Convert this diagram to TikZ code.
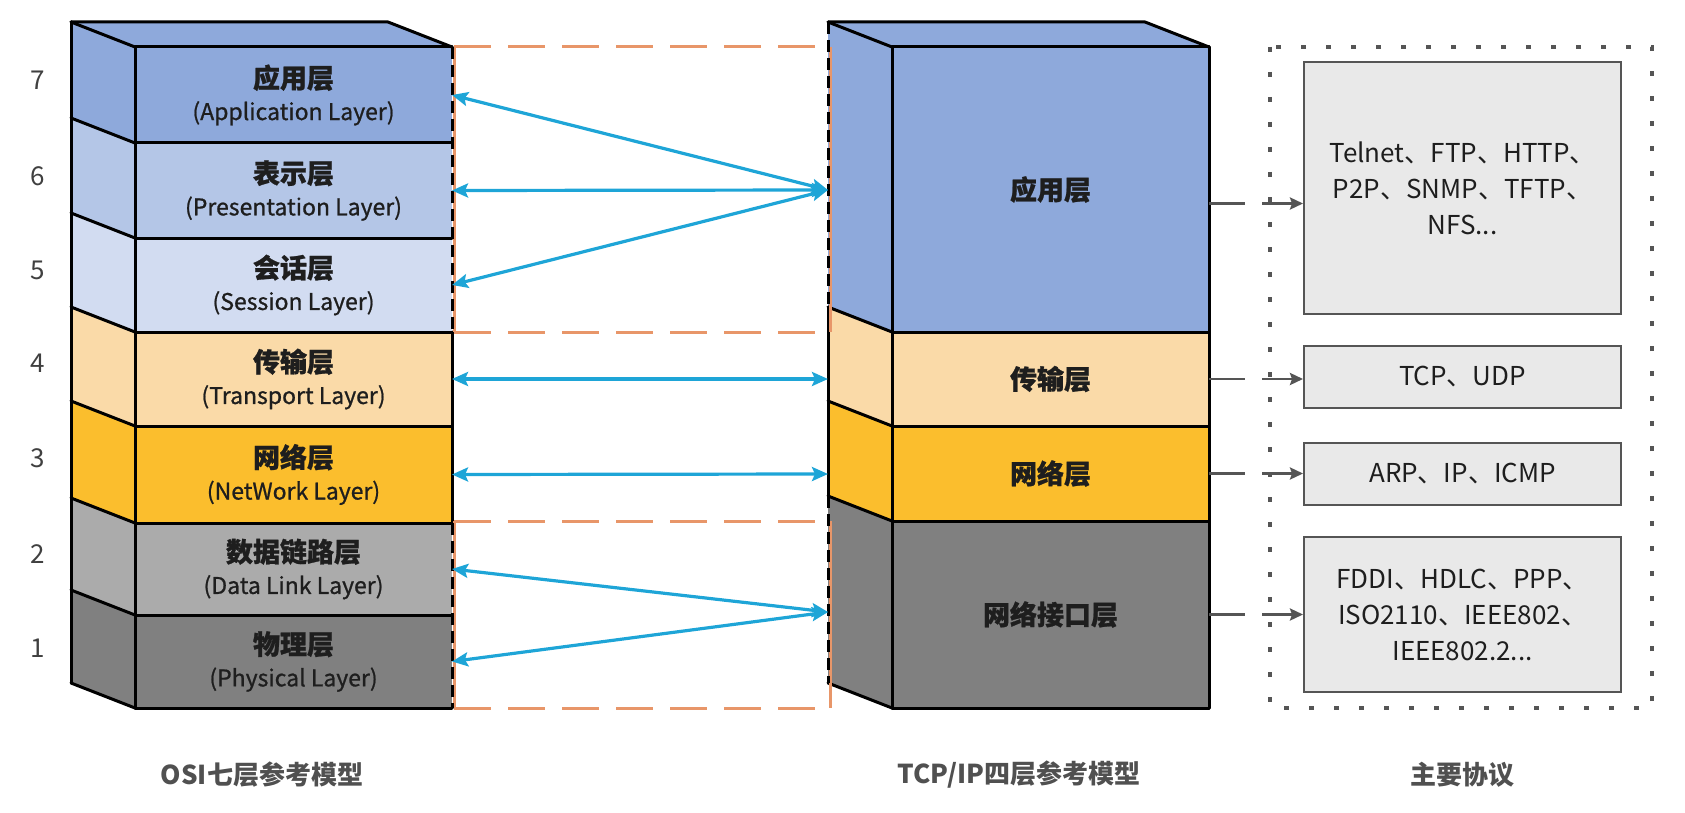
\documentclass[tikz,border=0pt]{standalone}
\usepackage{fontspec}
\setmainfont{Noto Sans CJK SC}
\newfontfamily\medfont{Noto Sans CJK SC}[FakeBold=0.9]
\usetikzlibrary{arrows.meta}
\definecolor{cApp}{RGB}{142,169,219}
\definecolor{cPre}{RGB}{180,198,231}
\definecolor{cSes}{RGB}{210,220,241}
\definecolor{cTra}{RGB}{250,218,168}
\definecolor{cNet}{RGB}{251,190,45}
\definecolor{cDat}{RGB}{171,171,171}
\definecolor{cPhy}{RGB}{128,128,128}
\definecolor{cBlue}{RGB}{30,165,215}
\definecolor{cOrange}{RGB}{232,150,105}
\definecolor{cProt}{RGB}{233,233,233}
\definecolor{cGrayLine}{RGB}{85,85,85}
\definecolor{cText}{RGB}{30,30,30}
\definecolor{cLabel}{RGB}{80,80,80}
\begin{document}
\begin{tikzpicture}[x=1pt,y=-1pt,
  face/.style={draw=none, inner sep=0pt, outer sep=0pt, minimum width=317pt,
    anchor=north west, align=center, text=cText, font=\medfont\fontsize{23}{32}\selectfont},
  edge/.style={line width=3pt, draw=black, line cap=round, line join=round},
  dashedge/.style={line width=3pt, draw=black, line cap=butt, dash pattern=on 12pt off 6pt},
  orangedash/.style={line width=3pt, draw=cOrange, dash pattern=on 37pt off 17pt},
  orangeside/.style={line width=2.2pt, draw=cOrange},
  bluearr/.style={draw=cBlue, line width=3.2pt,
    arrows={Stealth[length=16pt,width=14pt,inset=3pt]-Stealth[length=16pt,width=14pt,inset=3pt]}},
  grayarr/.style={draw=cGrayLine, line width=2.8pt, dash pattern=on 36pt off 17pt on 200pt off 10pt,
    -{Stealth[length=13pt,width=12pt,inset=2pt]}},
  prot/.style={draw=cGrayLine, line width=2pt, fill=cProt, inner sep=0pt, minimum width=317pt,
    align=center, text=cText, font=\fontsize{26}{36}\selectfont},
  num/.style={text=cLabel!80!black, font=\fontsize{26}{30}\selectfont},
  caption/.style={text=cLabel, font=\bfseries\fontsize{26}{30}\selectfont}
]
\useasboundingbox (0,0) rectangle (1685,813);

% ---------------- OSI cube ----------------
\foreach \ya/\yb/\c in {47/143/cApp,143/238/cPre,238/332/cSes,332/426/cTra,426/523/cNet,523/615/cDat,615/708/cPhy}{
  \fill[\c] (135,\ya) -- ++(-64,-25) -- (71,{\yb-25}) -- (135,\yb) -- cycle;
}
\fill[cApp] (71,22) -- (388,22) -- (452,47) -- (135,47) -- cycle;

\node[face, fill=cApp, minimum height=96pt] (o7) at (135,47) {{\bfseries\fontsize{27}{32}\selectfont 应用层}\\(Application Layer)};
\node[face, fill=cPre, minimum height=95pt] (o6) at (135,143) {{\bfseries\fontsize{27}{32}\selectfont 表示层}\\(Presentation Layer)};
\node[face, fill=cSes, minimum height=94pt] (o5) at (135,238) {{\bfseries\fontsize{27}{32}\selectfont 会话层}\\(Session Layer)};
\node[face, fill=cTra, minimum height=94pt] (o4) at (135,332) {{\bfseries\fontsize{27}{32}\selectfont 传输层}\\(Transport Layer)};
\node[face, fill=cNet, minimum height=97pt] (o3) at (135,426) {{\bfseries\fontsize{27}{32}\selectfont 网络层}\\(NetWork Layer)};
\node[face, fill=cDat, minimum height=92pt] (o2) at (135,523) {{\bfseries\fontsize{27}{32}\selectfont 数据链路层}\\(Data Link Layer)};
\node[face, fill=cPhy, minimum height=93pt] (o1) at (135,615) {{\bfseries\fontsize{27}{32}\selectfont 物理层}\\(Physical Layer)};

\foreach \y in {47,143,238,332,426,523,615,708}{
  \draw[edge] (135,\y) -- ++(-64,-25);
  \draw[edge] (135,\y) -- (452,\y);
}
\draw[edge] (71,22) -- (388,22) -- (452,47);
\draw[edge] (71,22) -- (71,683);
\draw[edge] (135,47) -- (135,708);
\draw[edge] (452,332) -- (452,523);

% ---------------- TCP/IP cube ----------------
\foreach \ya/\yb/\c in {47/332/cApp,332/426/cTra,426/521/cNet,521/708/cPhy}{
  \fill[\c] (892,\ya) -- ++(-64,-25) -- (828,{\yb-25}) -- (892,\yb) -- cycle;
}
\fill[cApp] (828,22) -- (1145,22) -- (1209,47) -- (892,47) -- cycle;

\node[face, fill=cApp, minimum height=285pt] (tapp) at (892,47) {{\bfseries\fontsize{27}{32}\selectfont 应用层}};
\node[face, fill=cTra, minimum height=94pt] (ttra) at (892,332) {{\bfseries\fontsize{27}{32}\selectfont 传输层}};
\node[face, fill=cNet, minimum height=95pt] (tnet) at (892,426) {{\bfseries\fontsize{27}{32}\selectfont 网络层}};
\node[face, fill=cPhy, minimum height=187pt] (tint) at (892,521) {{\bfseries\fontsize{27}{32}\selectfont 网络接口层}};

\foreach \y in {47,332,426,521,708}{
  \draw[edge] (892,\y) -- ++(-64,-25);
  \draw[edge] (892,\y) -- (1209,\y);
}
\draw[edge] (828,22) -- (1145,22) -- (1209,47);
\draw[edge] (892,47) -- (892,708);
\draw[edge] (1209,47) -- (1209,708);
\draw[edge] (828,307) -- (828,496);

% ---------------- orange dashed frames ----------------
\draw[orangeside] (454.5,47) -- (454.5,332);
\draw[orangeside] (454.5,521) -- (454.5,708);
\draw[orangeside] (830.5,47) -- (830.5,332);
\draw[orangeside] (830.5,521) -- (830.5,708);
\draw[orangedash] (454,47) -- (831,47);
\draw[orangedash] (454,332) -- (831,332);
\draw[orangedash] (454,521) -- (831,521);
\draw[orangedash] (454,708) -- (831,708);
\draw[dashedge] (452,47) -- (452,332);
\draw[dashedge] (452,523) -- (452,708);
\draw[dashedge] (828,22) -- (828,307);
\draw[dashedge] (828,496) -- (828,683);

% ---------------- layer numbers ----------------
\node[num] (n7) at (38,80) {7};
\node[num] (n6) at (38,176) {6};
\node[num] (n5) at (38,270) {5};
\node[num] (n4) at (38,363) {4};
\node[num] (n3) at (38,458) {3};
\node[num] (n2) at (38,554) {2};
\node[num] (n1) at (38,648) {1};

% ---------------- blue arrows ----------------
\coordinate (tA) at (828,190);
\coordinate (tT) at (828,379);
\coordinate (tN) at (828,474);
\coordinate (tI) at (828,612);
\draw[bluearr] (o7.east) -- (tA);
\draw[bluearr] (o6.east) -- (tA);
\draw[bluearr] (o5.east) -- (tA);
\draw[bluearr] (o4.east) -- (tT);
\draw[bluearr] (o3.east) -- (tN);
\draw[bluearr] (o2.east) -- (tI);
\draw[bluearr] (o1.east) -- (tI);

% ---------------- protocols ----------------
\draw[cGrayLine, line width=4pt, dash pattern=on 5pt off 20pt] (1270,47) rectangle (1652,708);
\node[prot, minimum height=252pt] (p1) at (1462.5,188) {Telnet、FTP、HTTP、\\P2P、SNMP、TFTP、\\NFS...};
\node[prot, minimum height=62pt] (p2) at (1462.5,377) {TCP、UDP};
\node[prot, minimum height=62pt] (p3) at (1462.5,474) {ARP、IP、ICMP};
\node[prot, minimum height=155pt] (p4) at (1462.5,614.5) {FDDI、HDLC、PPP、\\ISO2110、IEEE802、\\IEEE802.2...};

\coordinate (aS) at ([yshift=-14pt]tapp.east);
\draw[grayarr] (aS) -- (aS -| p1.west);
\draw[grayarr] (ttra.east) -- (ttra.east -| p2.west);
\draw[grayarr] (tnet.east) -- (tnet.east -| p3.west);
\draw[grayarr] (tint.east) -- (tint.east -| p4.west);

% ---------------- captions ----------------
\node[caption] (c1) at (262,775) {OSI七层参考模型};
\node[caption] (c2) at (1019,775) {TCP/IP四层参考模型};
\node[caption] (c3) at (1462,775) {主要协议};
\end{tikzpicture}
\end{document}
